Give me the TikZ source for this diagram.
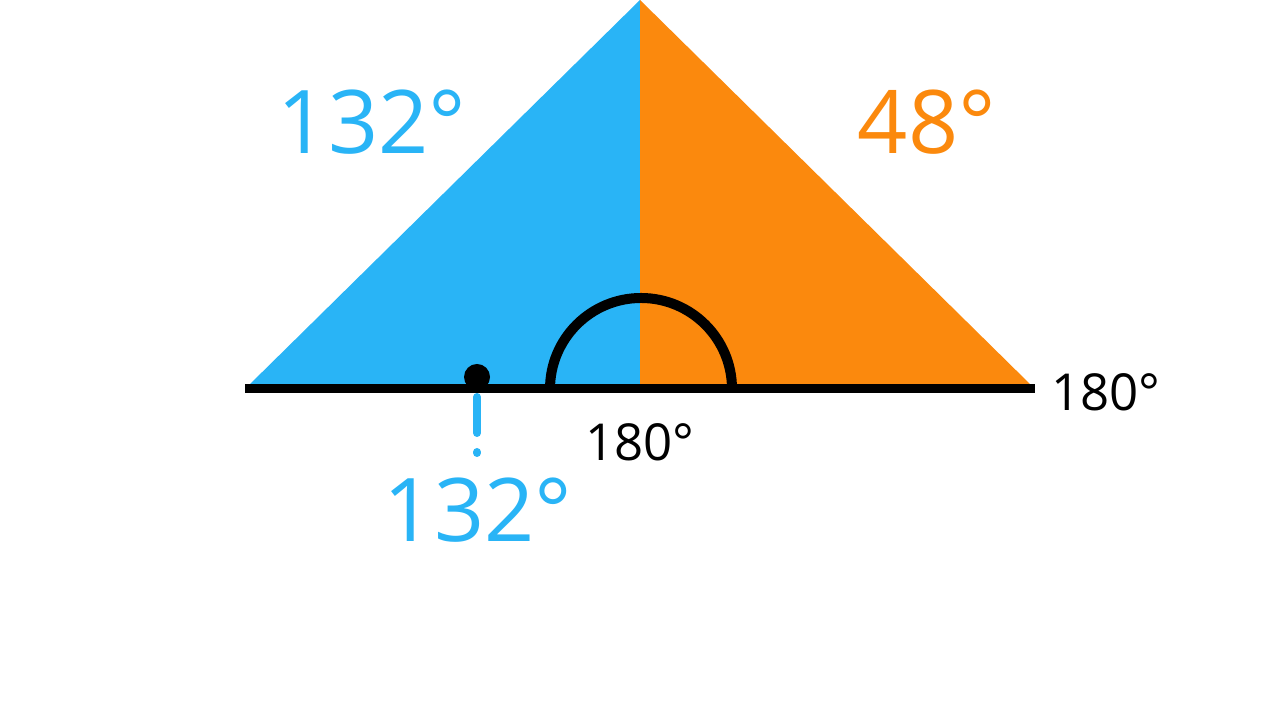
\documentclass[tikz,border=0pt]{standalone}
\usepackage{fontspec}
\setmainfont{Open Sans}
\usepackage{tikz}
\definecolor{skyside}{RGB}{41,180,246}
\definecolor{orangeside}{RGB}{251,137,13}
\tikzset{
  biglabel/.style={font=\fontsize{25}{28}\selectfont,inner sep=0pt},
  smalllabel/.style={font=\fontsize{14.5}{17}\selectfont,inner sep=0pt},
  blackline/.style={line width=0.09cm},
  ticker/.style={skyside,line width=0.08cm,line cap=round,dash pattern=on 0.36cm off 0.19cm on 0.01cm off 1cm}
}
\begin{document}
\begin{tikzpicture}
		\useasboundingbox (0,0) rectangle (12.8,7.2);
		\coordinate (apex) at (6.40,7.20);
		\coordinate (L) at (2.45,3.31);
		\coordinate (M) at (6.40,3.31);
		\coordinate (R) at (10.35,3.31);
		%
		% the two halves
		\fill[skyside] (L) -- (apex) -- (M) -- cycle;
		\fill[orangeside] (M) -- (apex) -- (R) -- cycle;
		%
		% tick below the point
		\coordinate (tickstart) at (4.77,3.23);
		\coordinate (tickend) at (4.77,2.66);
		\draw[ticker] (tickstart) -- (tickend);
		%
		% straight line and angle
		\draw[blackline] (L) -- (R);
		\draw[blackline,line width=0.10cm] (5.50,3.31) arc (180:0:0.91);
		\node[circle,fill=black,inner sep=0pt,minimum size=0.26cm] (dot) at (4.77,3.43) {};
		%
		% labels
		\node[biglabel,text=skyside] (topleft) at (3.72,5.98) {132°};
		\node[biglabel,text=orangeside] (topright) at (9.27,5.98) {48°};
		\node[smalllabel] (rightend) at (11.06,3.28) {180°};
		\node[smalllabel] (middle) at (6.40,2.78) {180°};
		\node[biglabel,text=skyside] (below) at (4.78,2.10) {132°};
\end{tikzpicture}
\end{document}
